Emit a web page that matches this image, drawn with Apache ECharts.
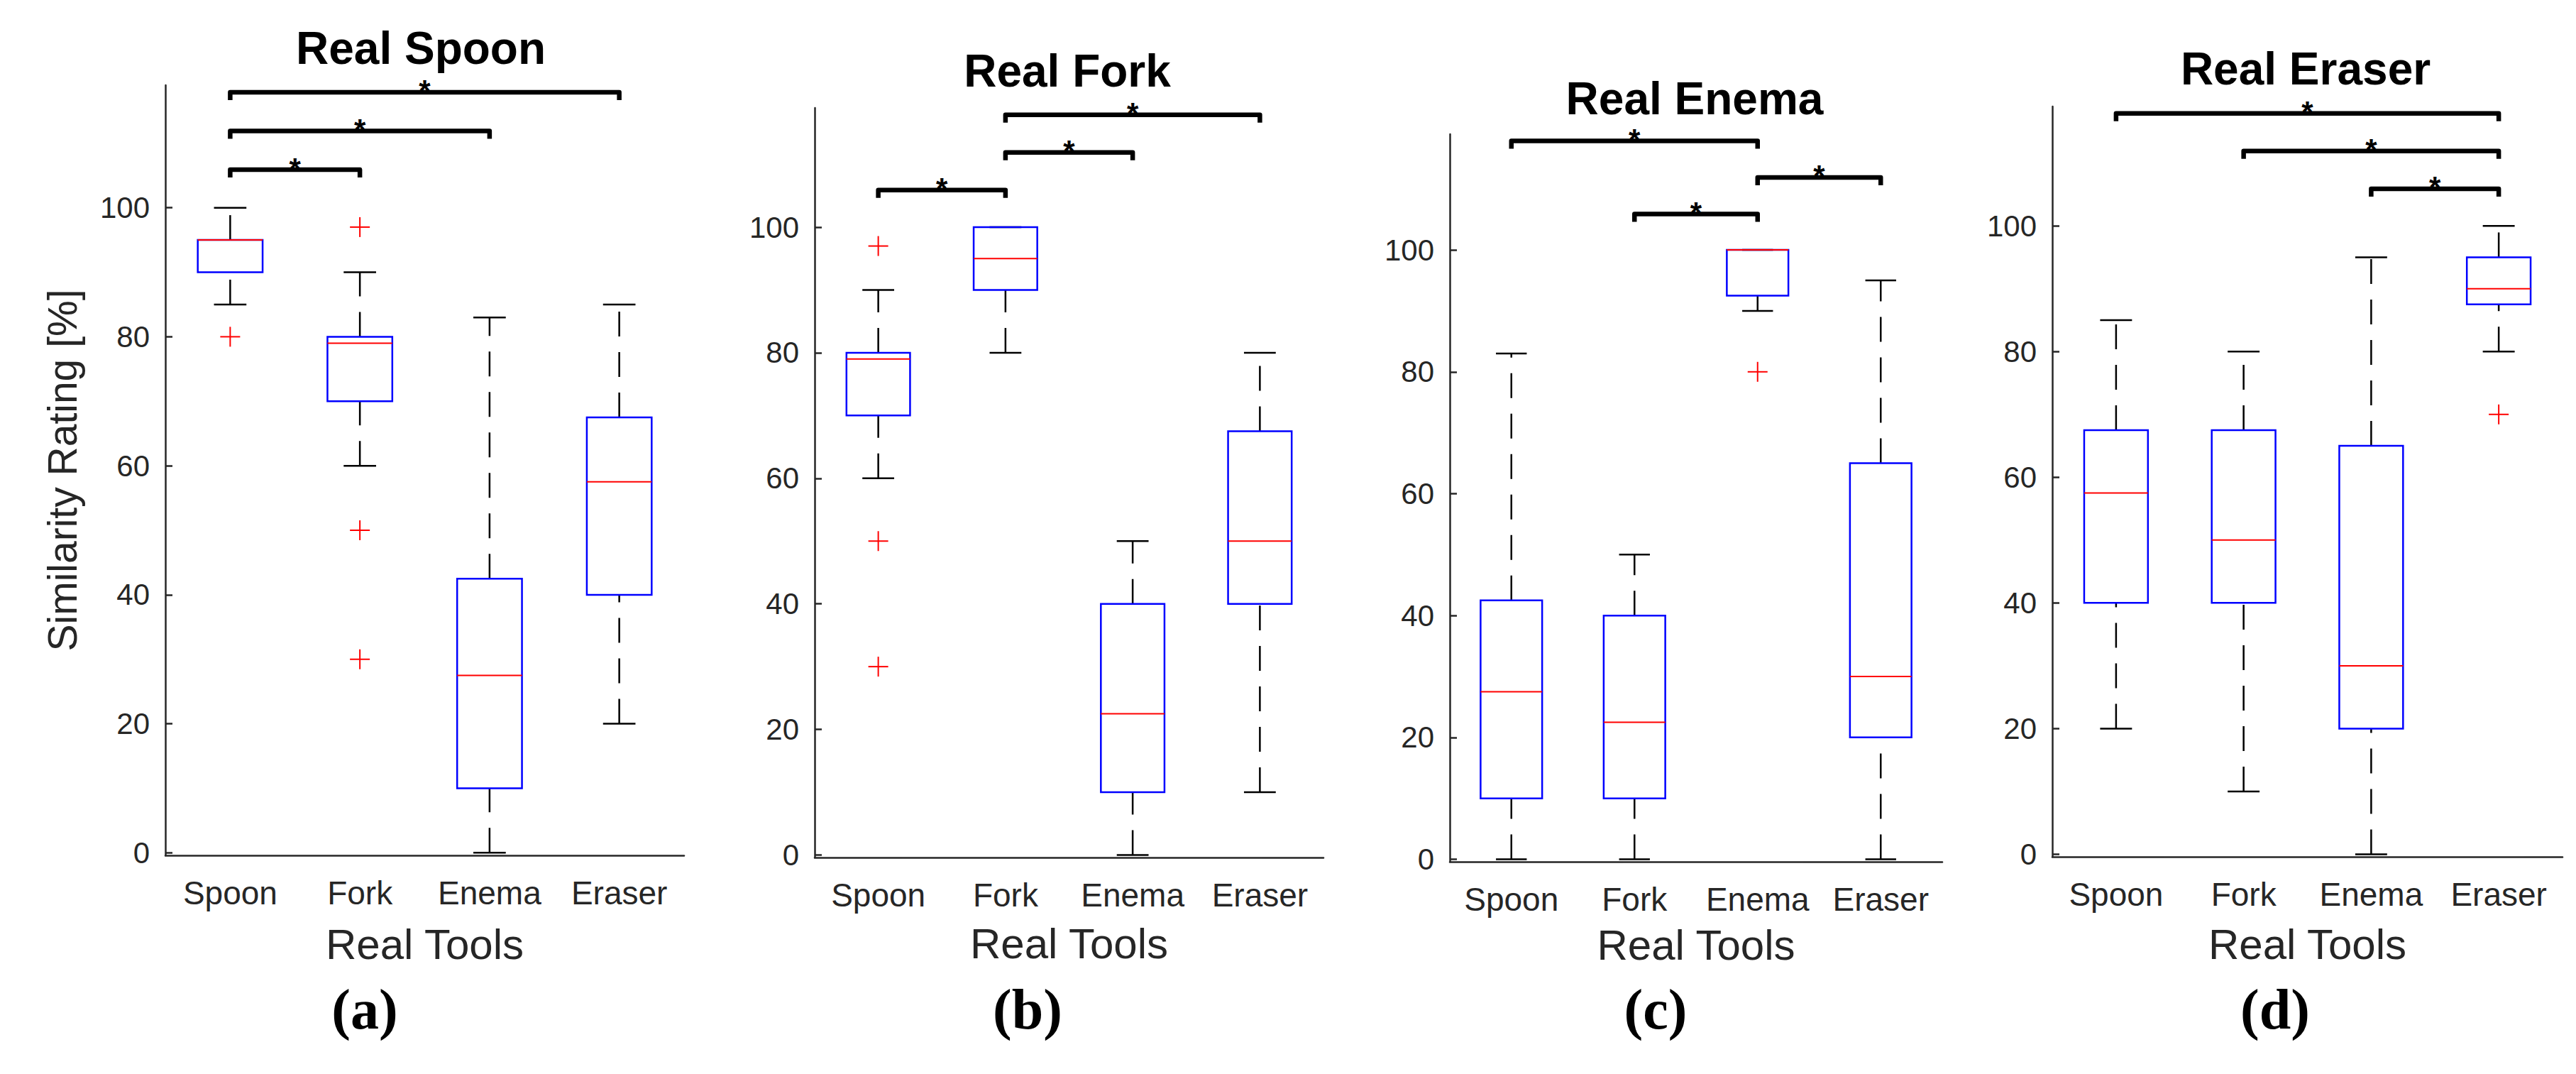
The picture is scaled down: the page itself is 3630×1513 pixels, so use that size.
<!DOCTYPE html>
<html>
<head>
<meta charset="utf-8">
<title>Similarity Rating - Real Tools</title>
<script src="https://cdn.jsdelivr.net/npm/echarts@6/dist/echarts.min.js"></script>
<style>
html, body { margin: 0; padding: 0; background: #fff; }
#main { width: 3630px; height: 1513px; }
</style>
</head>
<body>
<div id="main"></div>
<script>
var categories = ['Spoon', 'Fork', 'Enema', 'Eraser'];
var yTicks = [0, 20, 40, 60, 80, 100];
var panelTitles = ['Real Spoon', 'Real Fork', 'Real Enema', 'Real Eraser'];
var panelTags = ['(a)', '(b)', '(c)', '(d)'];

// box stats per tool: [low whisker, q1, median, q3, high whisker]
var spoonBoxes = [[85, 90, 95, 95, 100], [60, 70, 79, 80, 90], [0, 10, 27.5, 42.5, 83], [20, 40, 57.5, 67.5, 85]];
var forkBoxes = [[60, 70, 79, 80, 90], [80, 90, 95, 100, 100], [0, 10, 22.5, 40, 50], [10, 40, 50, 67.5, 80]];
var enemaBoxes = [[0, 10, 27.5, 42.5, 83], [0, 10, 22.5, 40, 50], [90, 92.5, 100, 100, 100], [0, 20, 30, 65, 95]];
var eraserBoxes = [[20, 40, 57.5, 67.5, 85], [10, 40, 50, 67.5, 80], [0, 20, 30, 65, 95], [80, 87.5, 90, 95, 100]];

// outliers: [tool index, value]
var spoonOutliers = [[0, 80], [1, 97], [1, 50], [1, 30]];
var forkOutliers = [[0, 97], [0, 50], [0, 30]];
var enemaOutliers = [[2, 80]];
var eraserOutliers = [[3, 70]];

// significance brackets: [from tool, to tool, height]
var spoonSig = [[0, 1, 105.9], [0, 2, 111.9], [0, 3, 117.9]];
var forkSig = [[0, 1, 105.9], [1, 2, 111.9], [1, 3, 117.9]];
var enemaSig = [[1, 2, 105.9], [2, 3, 111.9], [0, 2, 117.9]];
var eraserSig = [[2, 3, 105.9], [1, 3, 111.9], [0, 3, 117.9]];

var panels = [
    { boxes: spoonBoxes, outliers: spoonOutliers, sig: spoonSig },
    { boxes: forkBoxes, outliers: forkOutliers, sig: forkSig },
    { boxes: enemaBoxes, outliers: enemaOutliers, sig: enemaSig },
    { boxes: eraserBoxes, outliers: eraserOutliers, sig: eraserSig }
];

// panel layout in px
var layout = [
    { left: 233, top: 120, width: 731, height: 1085, titleX: 593, titleTop: 36, tagX: 514, nameGap: 95 },
    { left: 1148, top: 152, width: 717, height: 1056, titleX: 1504, titleTop: 68, tagX: 1448, nameGap: 91 },
    { left: 2043, top: 189, width: 694, height: 1025, titleX: 2388, titleTop: 107, tagX: 2333, nameGap: 87 },
    { left: 2892, top: 150, width: 719, height: 1057, titleX: 3249, titleTop: 65, tagX: 3206, nameGap: 93 }
];

var sans = '"Liberation Sans", Arial, Helvetica, sans-serif';
var axisColor = '#262626';

function renderBox(params, api) {
    var i = api.value(0);
    var low = api.coord([i, api.value(1)]);
    var q1 = api.coord([i, api.value(2)]);
    var med = api.coord([i, api.value(3)]);
    var q3 = api.coord([i, api.value(4)]);
    var high = api.coord([i, api.value(5)]);
    var band = api.size([1, 0])[0];
    var x = q1[0];
    var hw = band * 0.25;
    var cw = band * 0.125;
    return {
        type: 'group',
        children: [
            { type: 'line', shape: { x1: x, y1: q3[1], x2: x, y2: high[1] }, style: { stroke: '#000', lineWidth: 2.5, lineDash: [35, 22] } },
            { type: 'line', shape: { x1: x, y1: low[1], x2: x, y2: q1[1] }, style: { stroke: '#000', lineWidth: 2.5, lineDash: [35, 22] } },
            { type: 'line', shape: { x1: x - cw, y1: high[1], x2: x + cw, y2: high[1] }, style: { stroke: '#000', lineWidth: 2.5 } },
            { type: 'line', shape: { x1: x - cw, y1: low[1], x2: x + cw, y2: low[1] }, style: { stroke: '#000', lineWidth: 2.5 } },
            { type: 'rect', shape: { x: x - hw, y: q3[1], width: hw * 2, height: q1[1] - q3[1] }, style: { fill: 'none', stroke: '#0000ff', lineWidth: 2.5 } },
            { type: 'line', shape: { x1: x - hw, y1: med[1], x2: x + hw, y2: med[1] }, style: { stroke: '#ff0000', lineWidth: 2 } }
        ]
    };
}

function renderOutlier(params, api) {
    var p = api.coord([api.value(0), api.value(1)]);
    var r = 14;
    return {
        type: 'group',
        children: [
            { type: 'line', shape: { x1: p[0] - r, y1: p[1], x2: p[0] + r, y2: p[1] }, style: { stroke: '#ff0000', lineWidth: 2 } },
            { type: 'line', shape: { x1: p[0], y1: p[1] - r, x2: p[0], y2: p[1] + r }, style: { stroke: '#ff0000', lineWidth: 2 } }
        ]
    };
}

function renderSig(params, api) {
    var a = api.coord([api.value(0), api.value(2)]);
    var b = api.coord([api.value(1), api.value(2)]);
    var y = a[1];
    return {
        type: 'group',
        children: [
            { type: 'polyline', shape: { points: [[a[0], y + 11], [a[0], y], [b[0], y], [b[0], y + 11]] }, style: { stroke: '#000', lineWidth: 6.5, fill: null, lineJoin: 'round' } },
            { type: 'text', x: (a[0] + b[0]) / 2, y: y - 2, style: { text: '*', fill: '#000', fontSize: 42, fontWeight: 'bold', fontFamily: sans, align: 'center', verticalAlign: 'middle' } }
        ]
    };
}

var option = {
    backgroundColor: '#fff',
    animation: false,
    title: [],
    grid: [],
    xAxis: [],
    yAxis: [],
    series: [],
    graphic: []
};

for (var k = 0; k < panels.length; k++) {
    var L = layout[k];
    option.title.push({
        text: panelTitles[k],
        left: L.titleX,
        top: L.titleTop,
        textAlign: 'center',
        padding: 0,
        textStyle: { fontSize: 64, fontWeight: 'bold', color: '#000', fontFamily: sans }
    });
    option.grid.push({ left: L.left, top: L.top, width: L.width, height: L.height, containLabel: false });
    option.xAxis.push({
        type: 'category',
        gridIndex: k,
        data: categories,
        boundaryGap: true,
        name: 'Real Tools',
        nameLocation: 'middle',
        nameGap: L.nameGap,
        nameTextStyle: { fontSize: 60, color: axisColor, fontFamily: sans },
        axisLine: { onZero: false, lineStyle: { color: axisColor, width: 2.5 } },
        axisTick: { inside: true, alignWithLabel: true, length: 10, lineStyle: { color: axisColor, width: 2.5 } },
        axisLabel: { interval: 0, margin: 30, fontSize: 46, color: axisColor, fontFamily: sans },
        splitLine: { show: false }
    });
    option.yAxis.push({
        type: 'value',
        gridIndex: k,
        min: -0.4,
        max: 119,
        name: k === 0 ? 'Similarity Rating [%]' : '',
        nameLocation: 'middle',
        nameGap: 117,
        nameRotate: 90,
        nameTextStyle: { fontSize: 57, color: axisColor, fontFamily: sans },
        axisLine: { show: true, lineStyle: { color: axisColor, width: 2.5 } },
        axisTick: { show: true, inside: true, length: 10, customValues: yTicks, lineStyle: { color: axisColor, width: 2.5 } },
        axisLabel: { margin: 22, fontSize: 42, color: axisColor, fontFamily: sans, customValues: yTicks },
        splitLine: { show: false }
    });

    var boxData = panels[k].boxes.map(function (b, i) { return [i].concat(b); });
    option.series.push({
        type: 'custom',
        xAxisIndex: k,
        yAxisIndex: k,
        silent: true,
        renderItem: renderBox,
        encode: { x: 0, y: [1, 2, 3, 4, 5] },
        data: boxData
    });
    option.series.push({
        type: 'custom',
        xAxisIndex: k,
        yAxisIndex: k,
        silent: true,
        renderItem: renderOutlier,
        encode: { x: 0, y: 1 },
        data: panels[k].outliers
    });
    option.series.push({
        type: 'custom',
        xAxisIndex: k,
        yAxisIndex: k,
        silent: true,
        clip: false,
        renderItem: renderSig,
        encode: { x: [0, 1], y: 2 },
        data: panels[k].sig
    });

    option.graphic.push({
        type: 'text',
        x: L.tagX,
        y: 1422,
        style: {
            text: panelTags[k],
            fill: '#000',
            font: 'bold 80px "Liberation Serif", "Times New Roman", serif',
            textAlign: 'center',
            textVerticalAlign: 'middle',
            align: 'center',
            verticalAlign: 'middle'
        }
    });
}

var myChart = echarts.init(document.getElementById('main'), null, { renderer: 'svg' });
myChart.setOption(option);
</script>
</body>
</html>
